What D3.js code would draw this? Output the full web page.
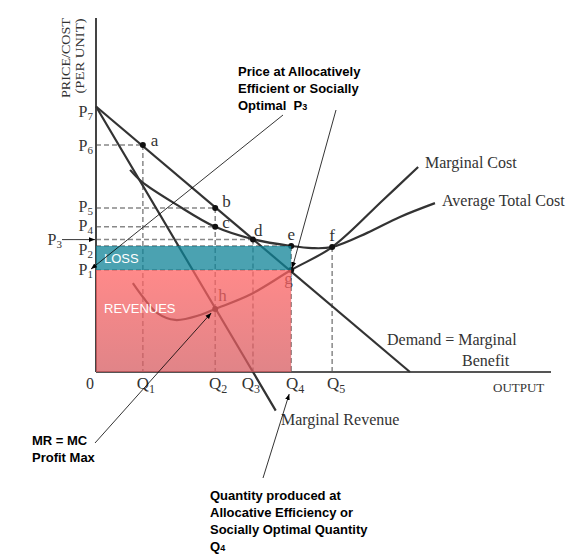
<!DOCTYPE html>
<html>
<head>
<meta charset="utf-8">
<script src="https://cdn.jsdelivr.net/npm/d3@7"></script>
<style>
  body { margin: 0; background: #fff; }
  svg { display: block; }
  .serif { font-family: "Liberation Serif", "Times New Roman", serif; fill: #333; }
  .note { font-family: "Liberation Sans", Arial, sans-serif; font-weight: bold; font-size: 13px; fill: #000; white-space: pre; }
  .inbox { font-family: "Liberation Sans", Arial, sans-serif; font-size: 13px; fill: #fff; }
</style>
</head>
<body>
<div id="chart"></div>
<script>
// price levels on the vertical axis
var priceLabels = ["7", "6", "5", "4", "3", "2", "1"];
var priceValues = [75, 64.1, 46.3, 41.0, 37.4, 35.6, 28.8];

// quantity levels on the horizontal axis
var qtyLabels = ["1", "2", "3", "4", "5"];
var qtyValues = [10.3, 26.2, 34.5, 42.9, 51.9];

// curves, [quantity, price]
var demand = [[0, 75], [69, 0]];
var marginalRevenue = [[0, 75], [34.5, 0], [39.5, -10.9]];
var averageTotalCost = [[7.5, 57.1], [10.1, 53.7], [17.8, 47.2], [26.2, 41.0], [34.5, 37.5], [42.9, 35.6],
  [47.5, 35.0], [51.9, 35.3], [59.6, 39.3], [66.8, 43.8], [74.5, 47.7]];
var marginalCost = [[8.1, 25.1], [10.3, 21.2], [13.4, 16.7], [17.4, 14.7], [22.9, 16.1], [26.2, 17.8],
  [33.8, 21.8], [42.9, 28.8], [51.9, 35.3], [63.1, 48.6], [70.8, 57.9]];

// labelled points
var pointNames = ["a", "b", "c", "d", "e", "f", "g", "h"];
var pointQ = [10.3, 26.2, 26.2, 34.5, 42.9, 51.9, 42.9, 26.2];
var pointP = [64.1, 46.3, 41.0, 37.4, 35.6, 35.3, 28.8, 17.8];

// which points get dashed guides to the axes
var hGuides = ["a", "b", "c", "d", "e", "g"];
var vGuides = ["a", "b", "d", "e", "f"];

var width = 583, height = 558;

var x = d3.scaleLinear().domain([0, 100]).range([96, 551]);
var y = d3.scaleLinear().domain([0, 100]).range([372, 18]);

var svg = d3.select("#chart").append("svg")
  .attr("width", width)
  .attr("height", height);

var defs = svg.append("defs");
defs.append("marker")
  .attr("id", "arrow")
  .attr("viewBox", "0 0 10 10")
  .attr("refX", 10).attr("refY", 5)
  .attr("markerWidth", 6).attr("markerHeight", 6)
  .attr("markerUnits", "userSpaceOnUse")
  .attr("orient", "auto")
  .append("path").attr("d", "M0,1L10,5L0,9z").attr("fill", "#000");

var grad = defs.append("linearGradient")
  .attr("id", "rev").attr("x1", 0).attr("y1", 0).attr("x2", 0).attr("y2", 1);
grad.append("stop").attr("offset", "0%").attr("stop-color", "#ff6262");
grad.append("stop").attr("offset", "100%").attr("stop-color", "#d65b60");

function pt(name) {
  var i = pointNames.indexOf(name);
  return { q: pointQ[i], p: pointP[i] };
}

// dashed guides
var guides = svg.append("g")
  .attr("stroke", "#888")
  .attr("stroke-width", 1.5)
  .attr("stroke-dasharray", "5,3");

hGuides.forEach(function (n) {
  var d = pt(n);
  guides.append("line")
    .attr("x1", x(0)).attr("x2", x(d.q))
    .attr("y1", y(d.p)).attr("y2", y(d.p));
});
vGuides.forEach(function (n) {
  var d = pt(n);
  guides.append("line")
    .attr("x1", x(d.q)).attr("x2", x(d.q))
    .attr("y1", y(d.p)).attr("y2", y(0));
});

// axes
svg.append("line")
  .attr("x1", x(0)).attr("x2", x(0))
  .attr("y1", y(100)).attr("y2", y(0))
  .attr("stroke", "#444").attr("stroke-width", 2);
svg.append("line")
  .attr("x1", x(0)).attr("x2", x(100))
  .attr("y1", y(0)).attr("y2", y(0))
  .attr("stroke", "#555").attr("stroke-width", 2);

// curves
var straight = d3.line().x(function (d) { return x(d[0]); }).y(function (d) { return y(d[1]); });
var smooth = d3.line().curve(d3.curveCatmullRom.alpha(0.5))
  .x(function (d) { return x(d[0]); }).y(function (d) { return y(d[1]); });

[[demand, straight], [marginalRevenue, straight], [averageTotalCost, smooth], [marginalCost, smooth]]
  .forEach(function (c) {
    svg.append("path")
      .attr("d", c[1](c[0]))
      .attr("fill", "none")
      .attr("stroke", "#333")
      .attr("stroke-width", 2.2);
  });

// dots
pointNames.forEach(function (n, i) {
  svg.append("circle")
    .attr("cx", x(pointQ[i])).attr("cy", y(pointP[i]))
    .attr("r", 3).attr("fill", "#111");
});

// point labels
var labelShift = { a: [8, 1], b: [7, -1], c: [7, 1], d: [1, -4], e: [0, -6], f: [0, -6], g: [-7, 14], h: [3, -8] };
pointNames.forEach(function (n, i) {
  svg.append("text").attr("class", "serif")
    .attr("x", x(pointQ[i]) + labelShift[n][0])
    .attr("y", y(pointP[i]) + labelShift[n][1])
    .attr("text-anchor", labelShift[n][0] === 0 ? "middle" : "start")
    .attr("font-size", 17)
    .text(n);
});

// loss and revenue boxes
var q4 = qtyValues[3], p2 = priceValues[5], p1 = priceValues[6];
svg.append("rect")
  .attr("x", x(0)).attr("y", y(p2))
  .attr("width", x(q4) - x(0)).attr("height", y(p1) - y(p2))
  .attr("fill", "#0f8397").attr("fill-opacity", 0.75);
svg.append("rect")
  .attr("x", x(0)).attr("y", y(p1))
  .attr("width", x(q4) - x(0)).attr("height", y(0) - y(p1))
  .attr("fill", "url(#rev)").attr("fill-opacity", 0.75);

svg.append("text").attr("class", "inbox")
  .attr("x", x(0) + 8).attr("y", (y(p2) + y(p1)) / 2 + 5)
  .text("LOSS");
svg.append("text").attr("class", "inbox")
  .attr("x", x(0) + 8).attr("y", 313)
  .text("REVENUES");

// price tick labels
var pYShift = [5, 1, -1, -1, 0, 4, 0];
priceLabels.forEach(function (l, i) {
  var isP3 = l === "3";
  var t = svg.append("text").attr("class", "serif")
    .attr("x", isP3 ? 62 : 93)
    .attr("y", y(priceValues[i]) + 5 + pYShift[i])
    .attr("text-anchor", "end")
    .attr("font-size", 16);
  t.append("tspan").text("P");
  t.append("tspan").attr("font-size", 11).attr("dy", 3).text(l);
});

// quantity tick labels
svg.append("text").attr("class", "serif")
  .attr("x", x(0) - 6).attr("y", 389)
  .attr("text-anchor", "middle").attr("font-size", 16)
  .text("0");
var qXShift = [3, 3, -2, 4, 4];
qtyLabels.forEach(function (l, i) {
  var t = svg.append("text").attr("class", "serif")
    .attr("x", x(qtyValues[i]) + qXShift[i]).attr("y", 389)
    .attr("text-anchor", "middle").attr("font-size", 17);
  t.append("tspan").text("Q");
  t.append("tspan").attr("font-size", 12).attr("dy", 4).text(l);
});

// axis titles
svg.append("text").attr("class", "serif")
  .attr("transform", "translate(70,58) rotate(-90)")
  .attr("text-anchor", "middle").attr("font-size", 13)
  .attr("textLength", 80).attr("lengthAdjust", "spacingAndGlyphs")
  .attr("fill", "#666")
  .text("PRICE/COST");
svg.append("text").attr("class", "serif")
  .attr("transform", "translate(84,56) rotate(-90)")
  .attr("text-anchor", "middle").attr("font-size", 13)
  .attr("textLength", 75).attr("lengthAdjust", "spacingAndGlyphs")
  .attr("fill", "#666")
  .text("(PER UNIT)");
svg.append("text").attr("class", "serif")
  .attr("x", 493).attr("y", 392).attr("font-size", 13)
  .text("OUTPUT");

// curve labels
function serifText(tx, ty, s) {
  svg.append("text").attr("class", "serif")
    .attr("x", tx).attr("y", ty).attr("font-size", 16).text(s);
}
serifText(425, 168, "Marginal Cost");
serifText(442, 206, "Average Total Cost");
serifText(387, 345, "Demand = Marginal");
serifText(462, 366, "Benefit");
serifText(281, 425, "Marginal Revenue");

// annotations
function arrow(x1, y1, x2, y2) {
  svg.append("line")
    .attr("x1", x1).attr("y1", y1).attr("x2", x2).attr("y2", y2)
    .attr("stroke", "#000").attr("stroke-width", 0.8)
    .attr("marker-end", "url(#arrow)");
}
arrow(283, 115, 91, y(p1) - 1);
arrow(336, 110, x(q4) + 1, y(p1) - 2);
arrow(95, 443, x(qtyValues[1]) - 4, y(pointP[7]) + 4);
arrow(263, 478, x(q4) - 2, 394);
arrow(62, y(priceValues[4]), x(0) - 1, y(priceValues[4]));

function note(tx, ty, lines) {
  lines.forEach(function (ln, i) {
    var t = svg.append("text").attr("class", "note")
      .attr("x", tx).attr("y", ty + i * 17);
    t.append("tspan").text(ln[0]);
    if (ln[1]) t.append("tspan").attr("font-size", 9).text(ln[1]);
  });
}
note(238, 76, [["Price at Allocatively"], ["Efficient or Socially"], ["Optimal\u00a0\u00a0P", "3"]]);
note(32, 445, [["MR = MC"], ["Profit Max"]]);
note(210, 500, [["Quantity produced at"], ["Allocative Efficiency or"], ["Socially Optimal Quantity"], ["Q", "4"]]);
</script>
</body>
</html>
